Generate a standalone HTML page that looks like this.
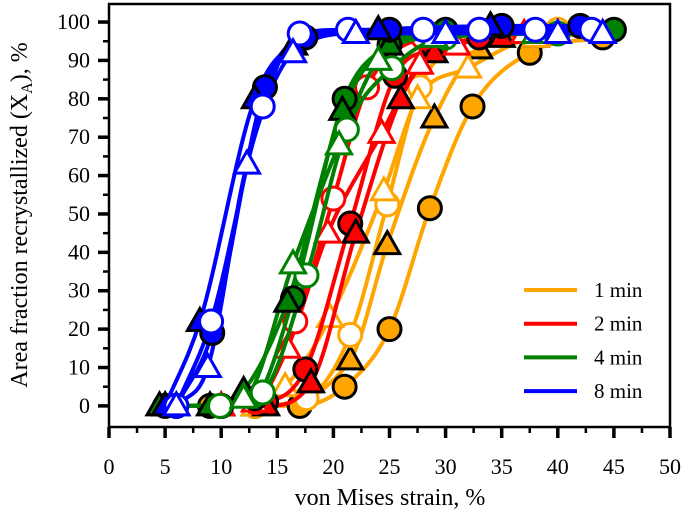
<!DOCTYPE html>
<html><head><meta charset="utf-8"><style>
html,body{margin:0;padding:0;background:#fff;}
svg{display:block;}
svg text{font-family:"Liberation Serif","DejaVu Serif",serif;}
</style></head><body>
<svg id="chart" width="685" height="514" viewBox="0 0 685 514" font-family="Liberation Serif, serif"></svg>
<script>
const xTicks=[0,5,10,15,20,25,30,35,40,45,50];
const yTicks=[0,10,20,30,40,50,60,70,80,90,100];
const seriesNames=["1 min","2 min","4 min","8 min"];
const seriesColors=["#FFA500","#FF0000","#008000","#0000FF"];
// orange 1 min
const o_fc=[[9,0],[13,0],[17,0],[21,5],[25,20],[28.6,51.5],[32.4,78],[37.5,92],[44,96]];
const o_ft=[[5,0],[13,0],[21.5,12],[24.8,42],[29,75],[33,93],[38,96],[44,97]];
const o_oc=[[13,0],[17.6,2],[21.5,18.5],[24.8,52.5],[27.7,83],[32,95],[40,98]];
const o_ot=[[13,0],[15.7,5],[19.7,23],[24.5,56],[27.5,80],[32,88],[38,96],[44,97]];
// red 2 min
const r_fc=[[10,0],[14,1],[17.5,9.5],[21.5,47.5],[25.5,86],[29,93],[33,96]];
const r_ft=[[10,0],[14,0],[18,6],[22,45],[26,80],[29,92],[35,96]];
const r_oc=[[10,0],[13,1],[16.6,22],[20,54],[23,83],[28,96],[33,98]];
const r_ot=[[10,0],[13,1],[15.9,15],[19.5,45],[24.3,71],[27.7,89],[31,94],[37,97]];
// green 4 min
const g_fc=[[5,0],[10,0],[13,2],[16.4,28],[21,80],[25,94],[30,98],[45,98]];
const g_ft=[[4.5,0],[9,0],[12,4],[15.9,27],[20.8,77],[25,94],[30,97]];
const g_oc=[[9.9,0],[13.7,3.5],[17.6,34],[21.2,72],[25.2,88],[30,96],[40,97]];
const g_ot=[[6,0],[12,2],[16.4,37],[20.5,68],[24,90],[29,96],[38,97]];
// blue 8 min
const b_fc=[[6,0],[9.2,19],[13.9,83],[17.5,96],[25,98],[35,99],[42,99]];
const b_ft=[[5,0],[8.1,22],[13,80],[16.5,94],[24,98],[34,99]];
const b_oc=[[6,0],[9.1,22],[13.7,78],[17,97],[21.3,98],[28,98],[33,98],[38,98],[43,98]];
const b_ot=[[6,0],[8.8,10],[12.3,63],[16.4,92],[22,97],[30,97],[40,97],[44,97]];

const groups=[
 {c:0,sets:[[o_fc,'fc'],[o_ft,'ft'],[o_oc,'oc'],[o_ot,'ot']]},
 {c:1,sets:[[r_fc,'fc'],[r_ft,'ft'],[r_oc,'oc'],[r_ot,'ot']]},
 {c:2,sets:[[g_fc,'fc'],[g_ft,'ft'],[g_oc,'oc'],[g_ot,'ot']]},
 {c:3,sets:[[b_fc,'fc'],[b_ft,'ft'],[b_oc,'oc'],[b_ot,'ot']]}
];

const L=109,R=670,T=4,B=427;
const xMin=0,xMax=50,yMin=-5.5,yMax=104.7;
function sx(v){return L+(v-xMin)/(xMax-xMin)*(R-L);}
function sy(v){return B-(v-yMin)/(yMax-yMin)*(B-T);}
const NS="http://www.w3.org/2000/svg";
const FONT='Liberation Serif, DejaVu Serif, serif';
const svg=document.getElementById('chart');
function mk(tag,attrs,parent){const e=document.createElementNS(NS,tag);for(const k in attrs)e.setAttribute(k,attrs[k]);if(tag==='text')e.setAttribute('font-family',FONT);(parent||svg).appendChild(e);return e;}

const defs=mk('defs',{});
const cp=mk('clipPath',{id:'plotclip'},defs);
mk('rect',{x:L,y:T,width:R-L,height:B-T},cp);

function monoPath(pts){
 const n=pts.length,xs=pts.map(p=>sx(p[0])),ys=pts.map(p=>sy(p[1]));
 const d=[],m=[];
 for(let i=0;i<n-1;i++)d.push((ys[i+1]-ys[i])/(xs[i+1]-xs[i]));
 m[0]=d[0];m[n-1]=d[n-2];
 for(let i=1;i<n-1;i++){m[i]=(d[i-1]*d[i]<=0)?0:(d[i-1]+d[i])/2;}
 for(let i=0;i<n-1;i++){if(d[i]===0){m[i]=0;m[i+1]=0;}else{const a=m[i]/d[i],b=m[i+1]/d[i],s=a*a+b*b;if(s>9){const t=3/Math.sqrt(s);m[i]=t*a*d[i];m[i+1]=t*b*d[i];}}}
 let p='M'+xs[0]+','+ys[0];
 for(let i=0;i<n-1;i++){const h=(xs[i+1]-xs[i])/3;p+=' C'+(xs[i]+h)+','+(ys[i]+m[i]*h)+' '+(xs[i+1]-h)+','+(ys[i+1]-m[i+1]*h)+' '+xs[i+1]+','+ys[i+1];}
 return p;
}

const plot=mk('g',{'clip-path':'url(#plotclip)'});


groups.forEach(g=>{
 const col=seriesColors[g.c];
 const gg=mk('g',{},plot);
 
 
 g.sets.forEach(s=>{
  const ln=mk('path',{d:monoPath(s[0]),fill:'none',stroke:col,'stroke-width':4},gg);
  
  
 });
 g.sets.forEach(s=>{
  const type=s[1];
  const filled=type[0]==='f';
  const fill=filled?col:'#fff',stroke=filled?'#000':col;
  s[0].forEach(p=>{
   const cx=sx(p[0]),cy=sy(p[1]);let el;
   if(type[1]==='c'){el=mk('circle',{cx:cx,cy:cy,r:11.5,fill:fill,stroke:stroke,'stroke-width':3},gg);}
   else{const h=13;el=mk('polygon',{points:(cx)+','+(cy-h)+' '+(cx+12.5)+','+(cy+9)+' '+(cx-12.5)+','+(cy+9),fill:fill,stroke:stroke,'stroke-width':3,'stroke-linejoin':'miter'},gg);}
   
   
  });
 });
});

const frame=mk('rect',{x:L,y:T,width:R-L,height:B-T,fill:'none',stroke:'#000','stroke-width':2.5});



const xax=mk('g',{});


xTicks.forEach((v,i)=>{
 const x=sx(v);
 mk('line',{x1:x,x2:x,y1:B,y2:B+11,stroke:'#000','stroke-width':3.5},xax);
 if(i<xTicks.length-1){const xm=sx(v+2.5);mk('line',{x1:xm,x2:xm,y1:B,y2:B+6,stroke:'#000','stroke-width':2.5},xax);}
 const t=mk('text',{x:x,y:474,'text-anchor':'middle','font-size':22},xax);
 t.textContent=v;
 
 
});
const yax=mk('g',{});


yTicks.forEach((v,i)=>{
 const y=sy(v);
 mk('line',{x1:L-11,x2:L,y1:y,y2:y,stroke:'#000','stroke-width':3.5},yax);
 if(i<yTicks.length-1){const ym=sy(v+5);mk('line',{x1:L-6,x2:L,y1:ym,y2:ym,stroke:'#000','stroke-width':2.5},yax);}
 const t=mk('text',{x:90,y:y+7,'text-anchor':'end','font-size':22},yax);
 t.textContent=v;
 
 
});
const xt=mk('text',{x:390,y:505,'text-anchor':'middle','font-size':24});
xt.textContent='von Mises strain, %';


const yt=mk('text',{x:0,y:0,'text-anchor':'middle','font-size':24,transform:'translate(27,215) rotate(-90)'});
yt.innerHTML='Area fraction recrystallized (X<tspan font-size="16" dy="5">A</tspan><tspan dy="-5">), %</tspan>';


const lg=mk('g',{});


seriesNames.forEach((n,i)=>{
 const y=290+i*33.7;
 const e=mk('g',{},lg);
 
 
 mk('line',{x1:524,x2:577,y1:y,y2:y,stroke:seriesColors[i],'stroke-width':4},e);
 const t=mk('text',{x:594,y:y+7,'font-size':21},e);
 t.textContent=n;
});
</script>
</body></html>
